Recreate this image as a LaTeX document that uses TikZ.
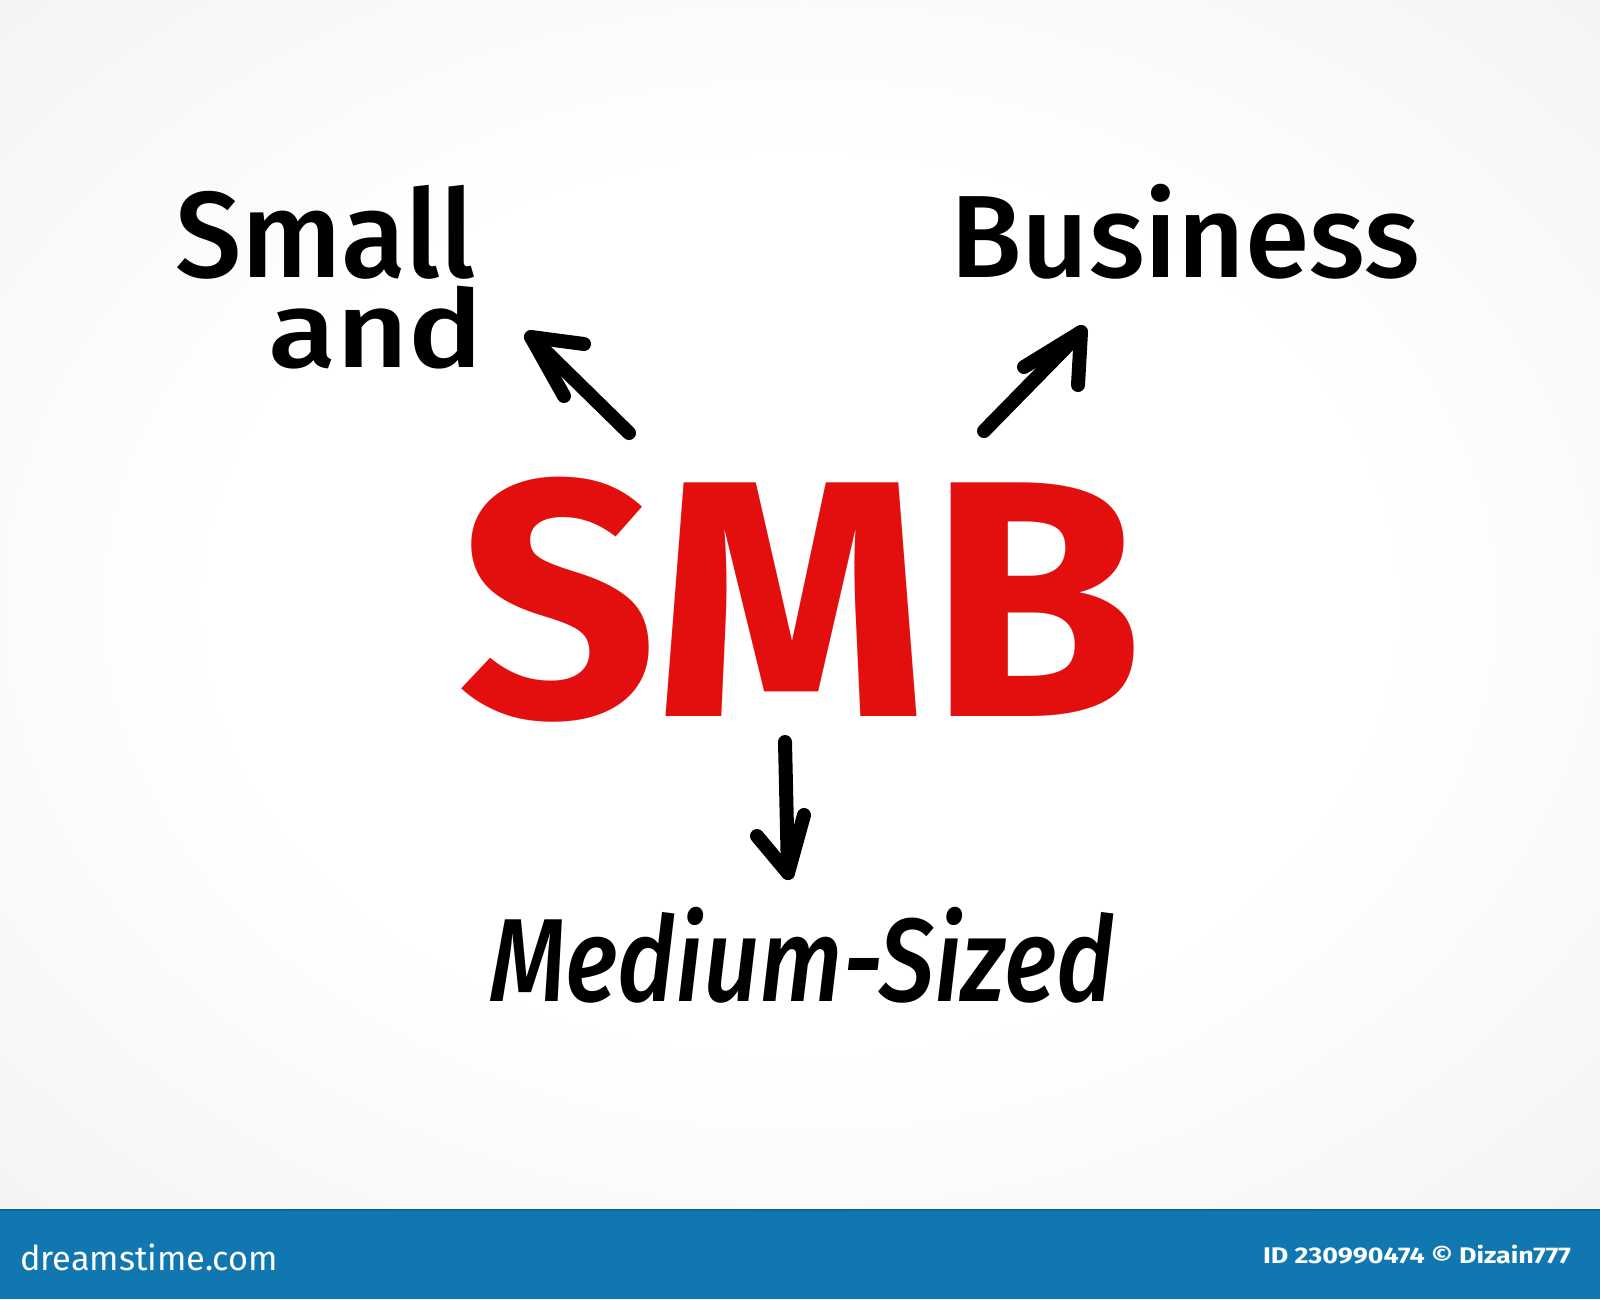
\documentclass[tikz,border=0pt]{standalone}
\usepackage{fontspec}
\usepackage{graphicx}
\setmainfont{Fira Sans}
\newfontfamily\medfont{Fira Sans Medium}
\newfontfamily\meditfont{Fira Sans Medium Italic}
\definecolor{smbred}{HTML}{E30F0F}
\definecolor{barblue}{HTML}{1077B0}
\definecolor{bgedge}{HTML}{EDEDEF}
\definecolor{bgcorner}{HTML}{E6E6E9}
\pgfdeclareradialshading{bgshade}{\pgfpoint{0bp}{0bp}}{%
  color(0bp)=(white); color(18bp)=(white); color(46bp)=(bgedge); color(71bp)=(bgcorner); color(100bp)=(bgcorner)}
\tikzset{
  word/.style={anchor=south west, inner sep=0pt, outer sep=0pt, text=black},
  marker/.style={line width=14pt, line cap=round, line join=round, draw=black},
}
\begin{document}
\begin{tikzpicture}[x=1pt,y=-1pt]
\useasboundingbox (0,0) rectangle (1600,1299);
% background
\shade[shading=bgshade] (0,0) rectangle (1600,1209);
\fill[barblue] (0,1209) rectangle (1600,1299);
\draw[barblue!85!black, line width=1.5pt] (0,1210) -- (1600,1210);

% words
\node[word] (small) at (175,279) {\resizebox*{300pt}{94pt}{\medfont Small}};
\node[word] (and) at (268,369) {\resizebox*{215pt}{83pt}{\medfont and}};
\node[word] (business) at (950,279) {\resizebox*{470pt}{95pt}{\medfont Business}};
\node[word] (medium) at (489,1003) {\resizebox*{625pt}{96pt}{\meditfont Medium-Sized}};
\node[word, text=smbred] (smb) at (458,722) {\resizebox*{684pt}{245pt}{\bfseries SMB}};

% arrows
\coordinate (nwS) at (629,433);
\coordinate (nwT) at (531,337);
\coordinate (nwA) at (564,396);
\coordinate (nwB) at (584,344);
\draw[marker] (nwS) -- (nwT);
\draw[marker] (nwA) -- (nwT) -- (nwB);

\coordinate (neS) at (984,431);
\coordinate (neT) at (1081,332);
\coordinate (neA) at (1024,367);
\coordinate (neB) at (1078,385);
\draw[marker] (neS) -- (neT);
\draw[marker] (neA) -- (neT) -- (neB);

\coordinate (dnS) at (785,742);
\coordinate (dnT) at (788,873);
\coordinate (dnA) at (757,836);
\coordinate (dnB) at (804,815);
\draw[marker] (dnS) -- (dnT);
\draw[marker] (dnA) -- (dnT) -- (dnB);

% footer
\node[word, text=white] (logo) at (20,1271) {\resizebox*{258pt}{27pt}{dreamstime.com}};
\node[word, text=white] (credit) at (1263,1264) {\resizebox*{308pt}{19pt}{\bfseries ID 230990474 © Dizain777}};
\end{tikzpicture}
\end{document}
